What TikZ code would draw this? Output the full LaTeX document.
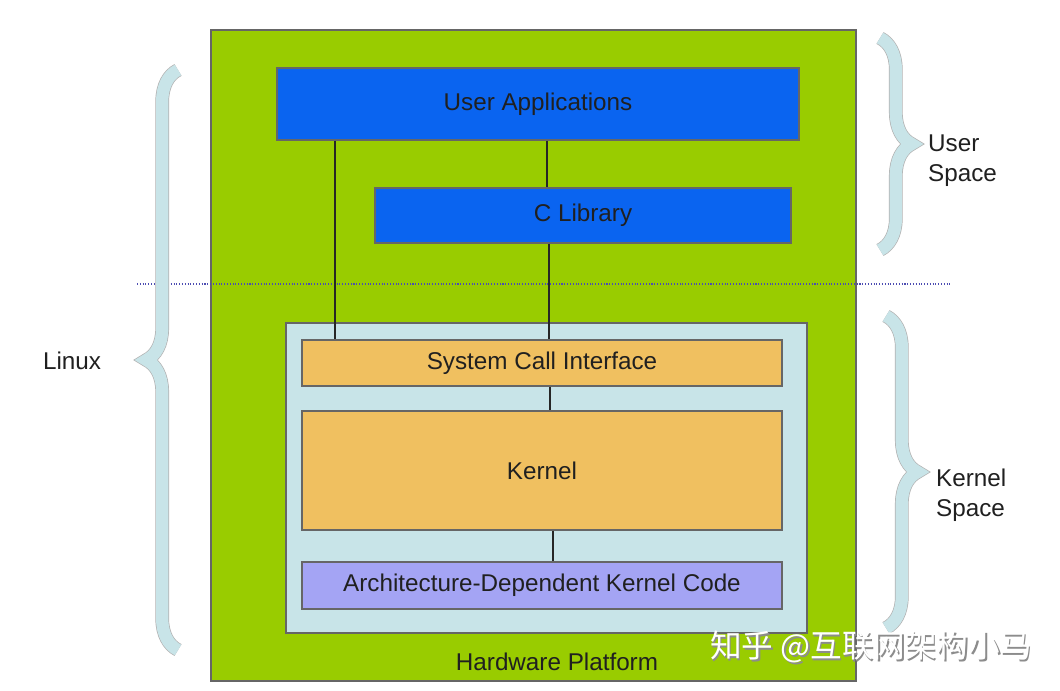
\documentclass[tikz,border=0pt]{standalone}
\usepackage{fontspec}
\setmainfont{Liberation Sans}
\newfontfamily\cjk{Noto Sans CJK SC}
\usetikzlibrary{decorations.pathreplacing}
\definecolor{grn}{HTML}{99CC00}
\definecolor{blu}{HTML}{0A64F0}
\definecolor{lb}{HTML}{C8E4E8}
\definecolor{org}{HTML}{F0C060}
\definecolor{lav}{HTML}{A4A4F4}
\definecolor{txt}{HTML}{202020}
\tikzset{
  box/.style={draw=black!60, line width=0.6pt},
  lbl/.style={font=\fontsize{13.8pt}{17pt}\selectfont, text=txt},
  conn/.style={line width=1.3pt, black!85},
  br/.style={decorate, decoration={brace, amplitude=18pt}, draw=black!30, double=lb, double distance=7pt, line width=0.4pt},
}
\begin{document}
\begin{tikzpicture}[x=0.02cm,y=-0.02cm]
\useasboundingbox (0,0) rectangle (1060,690);
\fill[white] (0,0) rectangle (1060,690);
\draw[box, fill=grn] (211,30) rectangle (856,681);
\node[box, fill=blu, minimum width=522*0.02cm, minimum height=72*0.02cm, lbl] (ua) at (538,104) {User Applications};
\node[box, fill=blu, minimum width=416*0.02cm, minimum height=55*0.02cm, lbl] (cl) at (583,215.5) {C Library};
\draw[densely dotted, blue!40!gray, line width=0.6pt] (137,284) -- (950,284);
\draw[box, fill=lb] (286,323) rectangle (807,633);
\node[box, fill=org, minimum width=480*0.02cm, minimum height=46*0.02cm, lbl] (sci) at (542,363) {System Call Interface};
\node[box, fill=org, minimum width=480*0.02cm, minimum height=119*0.02cm, lbl] (k) at (542,470.5) {Kernel};
\node[box, fill=lav, minimum width=480*0.02cm, minimum height=47*0.02cm, lbl] (arch) at (542,585.5) {Architecture-Dependent Kernel Code};
\node[lbl] (hw) at (557,662) {Hardware Platform};
\draw[conn] (ua.south -| 335,0) -- (sci.north -| 335,0);
\draw[conn] (ua.south -| 547,0) -- (cl.north -| 547,0);
\draw[conn] (cl.south -| 549,0) -- (sci.north -| 549,0);
\draw[conn] (sci.south -| 550,0) -- (k.north -| 550,0);
\draw[conn] (k.south -| 553,0) -- (arch.north -| 553,0);
\coordinate (l1) at (178,650); \coordinate (l2) at (178,70);
\draw[br] (l1) -- (l2);
\coordinate (t1) at (880,38); \coordinate (t2) at (880,250);
\draw[br] (t1) -- (t2);
\coordinate (b1) at (886,316); \coordinate (b2) at (886,628);
\draw[br] (b1) -- (b2);
\node[lbl] (linux) at (72,361) {Linux};
\node[lbl, align=left, anchor=west] (us) at (922,161) {User\\Space};
\node[lbl, align=left, anchor=west] (ks) at (930,495) {Kernel\\Space};
\node[text=black!45, font=\cjk\fontsize{18pt}{20pt}\selectfont, anchor=west] (wms) at (705.5,648.5) {知乎 @互联网架构小马};
\node[text=white, font=\cjk\fontsize{18pt}{20pt}\selectfont, anchor=west] (wm) at (704,647) {知乎 @互联网架构小马};
\end{tikzpicture}
\end{document}
